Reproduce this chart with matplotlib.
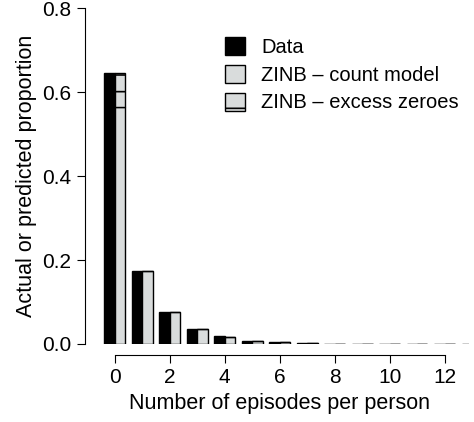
import numpy as np
import matplotlib.pyplot as plt

plt.rcParams['font.family'] = 'Liberation Sans'
plt.rcParams['hatch.linewidth'] = 1.2

episodes = np.arange(0, 14)
data = [0.645, 0.175, 0.075, 0.036, 0.018, 0.008, 0.004, 0.002, 0.001, 0.001, 0.0005, 0.0003, 0.0002, 0.0001]
count_model = [0.565, 0.175, 0.077, 0.035, 0.016, 0.008, 0.004, 0.002, 0.001, 0.001, 0.0005, 0.0003, 0.0002, 0.0001]
excess_zero = [0.080] + [0.0] * 13

fig = plt.figure(figsize=(4.74, 4.22), dpi=100)
ax = fig.add_axes([0.19, 0.185, 0.80, 0.795])
w = 0.38
ax.bar(episodes - w / 2, data, w, color='black', edgecolor='black', lw=1, label='Data')
ax.bar(episodes + w / 2, count_model, w, color='#d9dcdc', edgecolor='black', lw=1,
       label='ZINB \u2013 count model')
ax.bar(episodes + w / 2, excess_zero, w, bottom=count_model, color='#d9dcdc',
       edgecolor='black', lw=1, hatch='-', label='ZINB \u2013 excess zeroes')

ax.set_ylim(0, 0.8)
ax.set_xlim(-0.9, 12.9)
ax.set_xticks(range(0, 13, 2))
ax.set_yticks([0, 0.2, 0.4, 0.6, 0.8])
ax.set_yticklabels(['0.0', '0.2', '0.4', '0.6', '0.8'], rotation=90, va='center')
for s in ['top', 'right']:
    ax.spines[s].set_visible(False)
ax.spines['bottom'].set_bounds(0, 12)
ax.spines['bottom'].set_position(('outward', 8))
ax.spines['left'].set_position(('outward', 4))
ax.tick_params(labelsize=15, length=6)
ax.set_xlabel('Number of episodes per person', fontsize=15.5)
ax.set_ylabel('Actual or predicted proportion', fontsize=15.5)
ax.legend(loc='upper right', bbox_to_anchor=(1.02, 0.97), frameon=False, fontsize=14.5,
          handlelength=1.0, handleheight=1.0, labelspacing=0.4)
fig.savefig('out.png', dpi=100)
